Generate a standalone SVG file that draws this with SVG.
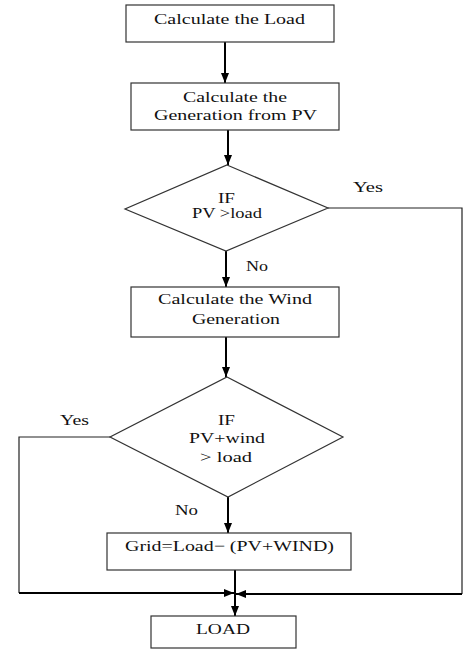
<svg xmlns="http://www.w3.org/2000/svg" width="474" height="653" viewBox="0 0 474 653">
<defs>
<style>
.box{fill:#fff;stroke:#333;stroke-width:1.2}
.t{font-family:'Liberation Serif','DejaVu Serif',serif;font-size:15px;fill:#111;text-anchor:middle}
.l{font-family:'Liberation Serif','DejaVu Serif',serif;font-size:15px;fill:#111}
.c{fill:none;stroke:#000;stroke-width:2}
.c1{fill:none;stroke:#222;stroke-width:1.2}
</style>
<marker id="ah" markerUnits="userSpaceOnUse" markerWidth="10" markerHeight="8" refX="10" refY="4" orient="auto">
<path d="M0,0 L10,4 L0,8 z" fill="#000"/>
</marker>
</defs>
<rect width="474" height="653" fill="#fff"/>
<g id="connectors">
<line class="c" x1="225" y1="42" x2="225" y2="83" marker-end="url(#ah)"/>
<line class="c" x1="228" y1="130" x2="228" y2="165" marker-end="url(#ah)"/>
<line class="c" x1="226" y1="251" x2="226" y2="287" marker-end="url(#ah)"/>
<line class="c" x1="226" y1="337" x2="226" y2="377" marker-end="url(#ah)"/>
<line class="c" x1="228" y1="497" x2="228" y2="533" marker-end="url(#ah)"/>
<line class="c" x1="235" y1="570" x2="235" y2="616" marker-end="url(#ah)"/>
<polyline class="c1" points="328,208 462,208 462,594"/>
<line class="c" x1="462" y1="594" x2="236" y2="594" marker-end="url(#ah)"/>
<polyline class="c1" points="110,437 19,437 19,593"/>
<line class="c" x1="19" y1="593" x2="234" y2="593" marker-end="url(#ah)"/>
<text class="l" x="353" y="192" textLength="30" lengthAdjust="spacingAndGlyphs">Yes</text>
<text class="l" x="246" y="271" textLength="22" lengthAdjust="spacingAndGlyphs">No</text>
<text class="l" x="60" y="425" textLength="29" lengthAdjust="spacingAndGlyphs">Yes</text>
<text class="l" x="175" y="515" textLength="23" lengthAdjust="spacingAndGlyphs">No</text>
</g>
<g id="n1">
<rect class="box" x="126" y="5" width="208" height="37"/>
<text class="t" x="229.5" y="24" textLength="151" lengthAdjust="spacingAndGlyphs">Calculate the Load</text>
</g>
<g id="n2">
<rect class="box" x="131" y="83" width="208" height="47"/>
<text class="t" x="235" y="102" textLength="104" lengthAdjust="spacingAndGlyphs">Calculate the</text>
<text class="t" x="235.5" y="120" textLength="163" lengthAdjust="spacingAndGlyphs">Generation from PV</text>
</g>
<g id="d1">
<polygon class="box" points="227,165 328,208 226,251 125,209"/>
<text class="t" x="226.5" y="203" textLength="17" lengthAdjust="spacingAndGlyphs">IF</text>
<text class="t" x="227" y="218" textLength="70" lengthAdjust="spacingAndGlyphs">PV &gt;load</text>
</g>
<g id="n3">
<rect class="box" x="131" y="287" width="208" height="50"/>
<text class="t" x="235" y="304" textLength="154" lengthAdjust="spacingAndGlyphs">Calculate the Wind</text>
<text class="t" x="236" y="324" textLength="88" lengthAdjust="spacingAndGlyphs">Generation</text>
</g>
<g id="d2">
<polygon class="box" points="227,377 343,437 228,497 110,437"/>
<text class="t" x="226.5" y="425" textLength="17" lengthAdjust="spacingAndGlyphs">IF</text>
<text class="t" x="227" y="443" textLength="76" lengthAdjust="spacingAndGlyphs">PV+wind</text>
<text class="t" x="226" y="462" textLength="52" lengthAdjust="spacingAndGlyphs">&gt; load</text>
</g>
<g id="n4">
<rect class="box" x="107" y="533" width="244" height="37"/>
<text class="t" x="229.5" y="551" textLength="209" lengthAdjust="spacingAndGlyphs">Grid=Load− (PV+WIND)</text>
</g>
<g id="n5">
<rect class="box" x="151" y="616" width="145" height="32"/>
<text class="t" x="223" y="634" textLength="54" lengthAdjust="spacingAndGlyphs">LOAD</text>
</g>
</svg>
